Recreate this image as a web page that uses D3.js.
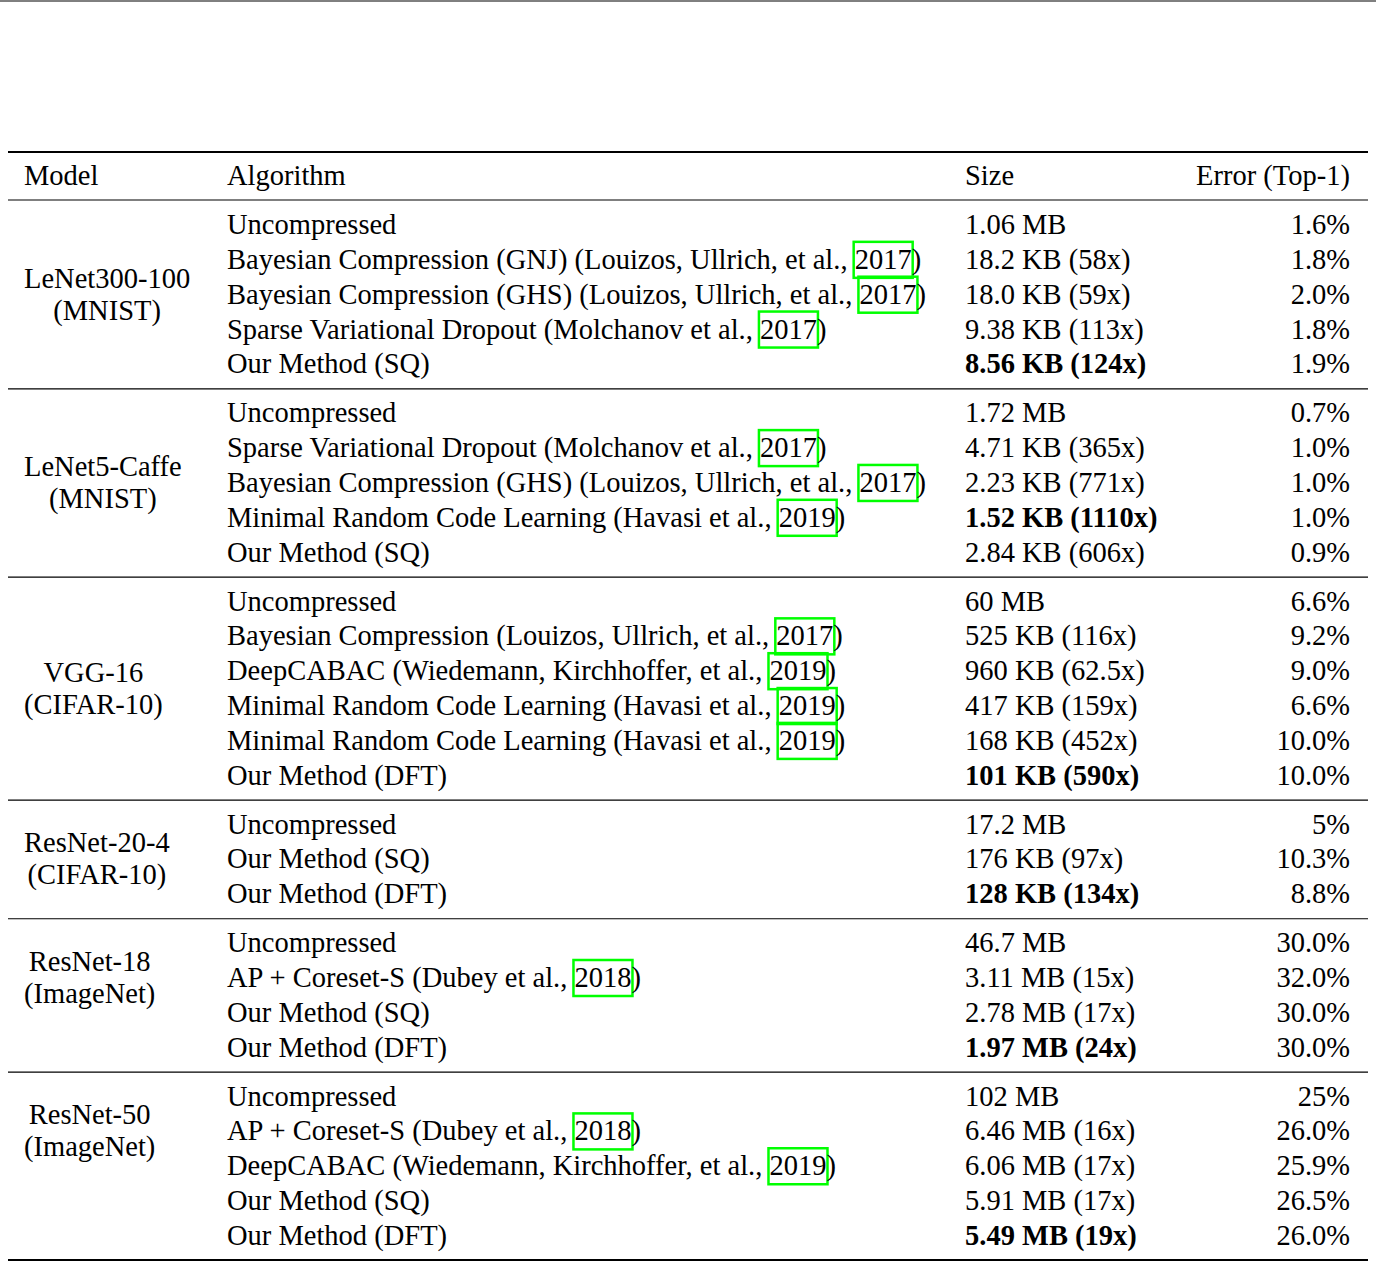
<!DOCTYPE html>
<html><head><meta charset="utf-8">
<script src="https://cdn.jsdelivr.net/npm/d3@7"></script>
<style>body{margin:0;background:#fff}text{font-family:"Liberation Serif","Times New Roman",serif;font-size:28.5px;fill:#000;white-space:pre}</style>
</head><body>
<script>
// table content
var models = [["LeNet300-100","(MNIST)"],["LeNet5-Caffe","(MNIST)"],["VGG-16","(CIFAR-10)"],
              ["ResNet-20-4","(CIFAR-10)"],["ResNet-18","(ImageNet)"],["ResNet-50","(ImageNet)"]];
var modelMidRow = [2, 2, 2.5, 1, 1, 1];
var groupOf = [0,0,0,0,0, 1,1,1,1,1, 2,2,2,2,2,2, 3,3,3, 4,4,4,4, 5,5,5,5,5];
var algorithms = [
 "Uncompressed","Bayesian Compression (GNJ) (Louizos, Ullrich, et al., ","Bayesian Compression (GHS) (Louizos, Ullrich, et al., ","Sparse Variational Dropout (Molchanov et al., ","Our Method (SQ)",
 "Uncompressed","Sparse Variational Dropout (Molchanov et al., ","Bayesian Compression (GHS) (Louizos, Ullrich, et al., ","Minimal Random Code Learning (Havasi et al., ","Our Method (SQ)",
 "Uncompressed","Bayesian Compression (Louizos, Ullrich, et al., ","DeepCABAC (Wiedemann, Kirchhoffer, et al., ","Minimal Random Code Learning (Havasi et al., ","Minimal Random Code Learning (Havasi et al., ","Our Method (DFT)",
 "Uncompressed","Our Method (SQ)","Our Method (DFT)",
 "Uncompressed","AP + Coreset-S (Dubey et al., ","Our Method (SQ)","Our Method (DFT)",
 "Uncompressed","AP + Coreset-S (Dubey et al., ","DeepCABAC (Wiedemann, Kirchhoffer, et al., ","Our Method (SQ)","Our Method (DFT)"];
var years = ["","2017","2017","2017","", "","2017","2017","2019","", "","2017","2019","2019","2019","", "","","", "","2018","","", "","2018","2019","",""];
var sizes = ["1.06 MB","18.2 KB (58x)","18.0 KB (59x)","9.38 KB (113x)","8.56 KB (124x)",
 "1.72 MB","4.71 KB (365x)","2.23 KB (771x)","1.52 KB (1110x)","2.84 KB (606x)",
 "60 MB","525 KB (116x)","960 KB (62.5x)","417 KB (159x)","168 KB (452x)","101 KB (590x)",
 "17.2 MB","176 KB (97x)","128 KB (134x)",
 "46.7 MB","3.11 MB (15x)","2.78 MB (17x)","1.97 MB (24x)",
 "102 MB","6.46 MB (16x)","6.06 MB (17x)","5.91 MB (17x)","5.49 MB (19x)"];
var errors = ["1.6%","1.8%","2.0%","1.8%","1.9%","0.7%","1.0%","1.0%","1.0%","0.9%",
 "6.6%","9.2%","9.0%","6.6%","10.0%","10.0%","5%","10.3%","8.8%",
 "30.0%","32.0%","30.0%","30.0%","25%","26.0%","25.9%","26.5%","26.0%"];
var boldRows = [4,8,15,18,22,27];

var W = 1376, H = 1263;
var svg = d3.select("body").append("svg").attr("width", W).attr("height", H);
var pitch = 34.85, sepGap = 14;
var xModel = 24, xAlg = 227, xSize = 965, xErr = 1350;

// row centres
var ya = [], y = 225;
groupOf.forEach(function(g, i) {
  if (i > 0 && g !== groupOf[i-1]) y += sepGap;
  ya.push(y); y += pitch;
});

function hline(yy, w, x0, x1) {
  svg.append("line").attr("x1", x0).attr("x2", x1).attr("y1", yy).attr("y2", yy)
    .attr("stroke", "#000").attr("stroke-width", w);
}
hline(1, 1, 0, W);
hline(152, 2, 8, 1368);
hline(200, 1.2, 8, 1368);
hline(1260, 2, 8, 1368);
groupOf.forEach(function(g, i) {
  if (i > 0 && g !== groupOf[i-1]) hline((ya[i-1] + ya[i]) / 2, 1.2, 8, 1368);
});

// header
var hy = 185;
svg.append("text").attr("x", xModel).attr("y", hy).text("Model");
svg.append("text").attr("x", xAlg).attr("y", hy).text("Algorithm");
svg.append("text").attr("x", xSize).attr("y", hy).text("Size");
svg.append("text").attr("x", xErr).attr("y", hy).attr("text-anchor", "end").text("Error (Top-1)");

// model names
models.forEach(function(m, g) {
  var first = groupOf.indexOf(g);
  var mid = ya[first] + modelMidRow[g] * pitch;
  var ts = m.map(function(line, k) {
    return svg.append("text").attr("y", mid + (k === 0 ? -16 : 16) + 9).text(line);
  });
  var wmax = d3.max(ts, function(t){ return t.node().getComputedTextLength(); });
  ts.forEach(function(t){ t.attr("x", xModel + wmax / 2).attr("text-anchor", "middle"); });
});

// rows
algorithms.forEach(function(a, i) {
  var base = ya[i] + 9;
  var t = svg.append("text").attr("x", xAlg).attr("y", base).text(a);
  if (years[i]) {
    var x0 = xAlg + t.node().getComputedTextLength();
    var yt = svg.append("text").attr("x", x0).attr("y", base).text(years[i]);
    var yw = yt.node().getComputedTextLength();
    svg.append("rect").attr("x", x0 - 1).attr("y", ya[i] - 18).attr("width", yw + 2).attr("height", 36)
      .attr("fill", "none").attr("stroke", "#00ff00").attr("stroke-width", 2.5);
    svg.append("text").attr("x", x0 + yw).attr("y", base).text(")");
  }
  svg.append("text").attr("x", xSize).attr("y", base)
    .attr("font-weight", boldRows.indexOf(i) >= 0 ? "bold" : null).text(sizes[i]);
  svg.append("text").attr("x", xErr).attr("y", base).attr("text-anchor", "end").text(errors[i]);
});
</script>
</body></html>
